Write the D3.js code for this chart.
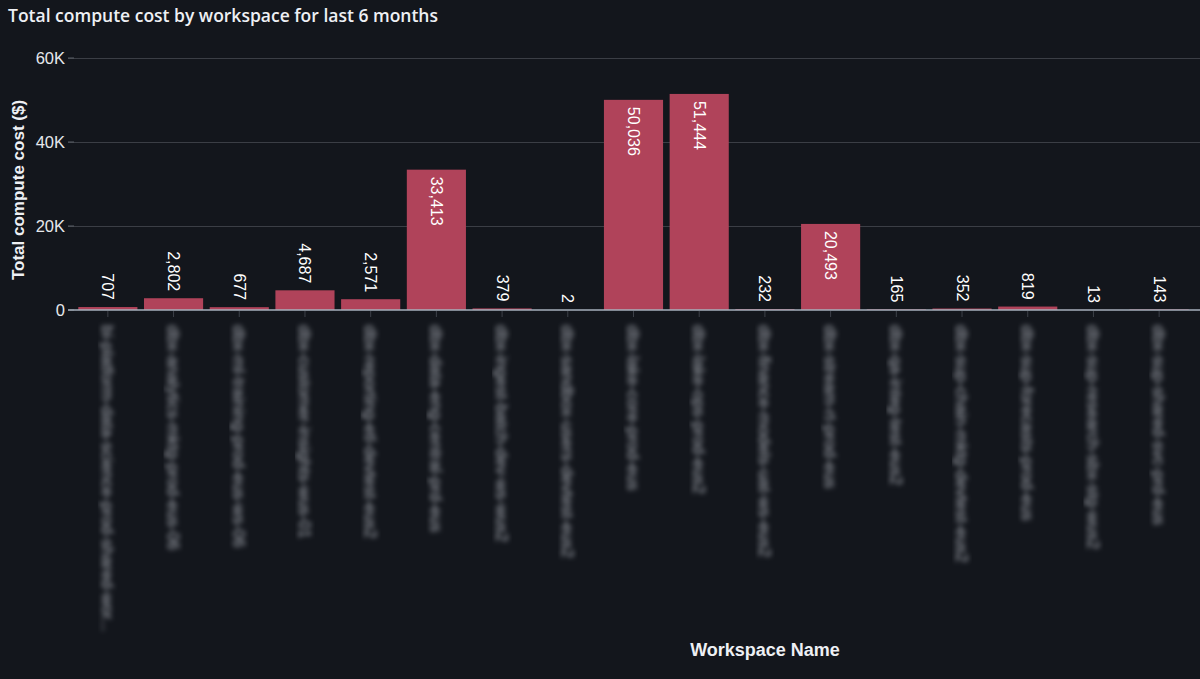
<!DOCTYPE html>
<html>
<head>
<meta charset="utf-8">
<script src="https://cdn.jsdelivr.net/npm/d3@7"></script>
<style>
  html, body { margin: 0; padding: 0; background: #13161c; }
  svg { display: block; font-family: "Liberation Sans", Arial, sans-serif; }
</style>
</head>
<body>
<script>
"use strict";
// workspace names are blurred in the original, these are stand-ins
const workspaces = [
    "bi-platform-data-science-prod-shared-workspace-eus",
    "dbx-analytics-mktg-prod-eus-06",
    "dbx-ml-training-prod-eus-ws-06",
    "dbx-customer-insights-wus-01",
    "dbx-reporting-etl-devtest-eus2",
    "dbx-data-eng-central-prd-eus",
    "dbx-ingest-batch-dev-ws-wus2",
    "dbx-sandbox-users-devtest-eus2",
    "dbx-lake-core-prod-eus",
    "dbx-lake-ops-prod-eus2",
    "dbx-finance-models-uat-ws-eus2",
    "dbx-stream-rt-prod-eus",
    "dbx-qa-integ-test-eus2",
    "dbx-sup-chain-mktg-devtest-eus2",
    "dbx-sup-forecasts-prod-eus",
    "dbx-sup-research-sbx-stg-wus2",
    "dbx-sup-shared-svc-prd-eus"
]
const costs = [707, 2802, 677, 4687, 2571, 33413, 379, 2, 50036, 51444, 232, 20493, 165, 352, 819, 13, 143]
const yTicks = [0, 20000, 40000, 60000]
const yTickLabels = ["0", "20K", "40K", "60K"]

const measurements = {
    width: 1200,
    height: 679,
    left: 68,
    top: 58,
    bottom: 310
}

const svg = d3.select("body").append("svg")
    .attr("width", measurements.width)
    .attr("height", measurements.height)

svg.append("defs").append("filter")
    .attr("id", "blur")
    .attr("x", "-50%").attr("y", "-5%").attr("width", "200%").attr("height", "110%")
    .append("feGaussianBlur")
    .attr("stdDeviation", 2.6)

const x = d3.scaleBand()
    .domain(workspaces)
    .range([75, 1192])
    .paddingInner(0.1)
    .paddingOuter(0.05)

const y = d3.scaleLinear()
    .domain([0, 60000])
    .range([measurements.bottom, measurements.top])

// title
svg.append("text")
    .attr("x", 8)
    .attr("y", 22)
    .attr("fill", "#eef0f4")
    .attr("font-size", 17.5)
    .attr("font-weight", 600)
    .attr("font-family", "'Open Sans', sans-serif")
    .text("Total compute cost by workspace for last 6 months")

// gridlines + y axis
const yAxis = d3.axisLeft(y)
    .tickValues(yTicks)
    .tickFormat((d, i) => yTickLabels[i])
    .tickSize(-(measurements.width - measurements.left))
    .tickPadding(10)

const gy = svg.append("g")
    .attr("transform", `translate(${measurements.left},0)`)
    .call(yAxis)
gy.select(".domain").remove()
gy.selectAll(".tick line")
    .attr("stroke", "#3b3e45")
    .attr("x1", 0)
gy.selectAll(".tick text")
    .attr("fill", "#e6e8ec")
    .attr("font-size", 16.5)
    .attr("font-family", "'Liberation Sans', Arial, sans-serif")
    .attr("x", -3)
gy.selectAll(".tick").filter(d => d === 0).select("line").attr("stroke", "none")

// small tick stubs at the axis
svg.append("g").selectAll("line")
    .data(yTicks)
    .join("line")
    .attr("x1", measurements.left)
    .attr("x2", measurements.left + 6)
    .attr("y1", d => y(d))
    .attr("y2", d => y(d))
    .attr("stroke", "#5a5e66")

// bars
svg.append("g").selectAll("rect")
    .data(costs)
    .join("rect")
    .attr("x", (d, i) => x(workspaces[i]))
    .attr("y", d => y(d))
    .attr("width", x.bandwidth())
    .attr("height", d => y(0) - y(d))
    .attr("fill", "#b0435a")

// zero line
svg.append("line")
    .attr("x1", measurements.left)
    .attr("x2", measurements.width)
    .attr("y1", y(0))
    .attr("y2", y(0))
    .attr("stroke", "#a7b0bd")
    .attr("stroke-width", 1.5)

// x axis: blurred names, rotated
const xAxis = d3.axisBottom(x).tickSize(6).tickPadding(0)
const gx = svg.append("g")
    .attr("transform", `translate(0,${y(0) + 1})`)
    .call(xAxis)
gx.select(".domain").remove()
gx.selectAll(".tick line").attr("stroke", "#3d4149")
gx.selectAll(".tick text")
    .attr("transform", "rotate(90)")
    .attr("text-anchor", "start")
    .attr("dominant-baseline", "central")
    .attr("x", 14)
    .attr("y", 0)
    .attr("dy", null)
    .attr("fill", "#a4a8b0")
    .attr("font-size", 16)
    .attr("font-family", "'Liberation Sans', Arial, sans-serif")
    .attr("filter", "url(#blur)")
    .text(d => d.length > 44 ? d.slice(0, 40) + "..." : d)

// value labels
const fmt = d3.format(",")
svg.append("g").selectAll("text")
    .data(costs)
    .join("text")
    .each(function(d, i) {
        const cx = x(workspaces[i]) + x.bandwidth() / 2
        const label = fmt(d)
        const h = y(0) - y(d)
        const inside = h > label.length * 8 + 16
        d3.select(this)
            .attr("transform", `translate(${cx},${inside ? y(d) + 7 : y(d) - 7}) rotate(90)`)
            .attr("text-anchor", inside ? "start" : "end")
            .attr("dominant-baseline", "central")
            .attr("fill", "#ffffff")
            .attr("font-size", 16)
            .attr("font-family", "'Liberation Sans', Arial, sans-serif")
            .text(label)
    })

// axis titles
svg.append("text")
    .attr("transform", `translate(24,${(measurements.top + measurements.bottom) / 2 + 6}) rotate(-90)`)
    .attr("text-anchor", "middle")
    .attr("fill", "#eef0f4")
    .attr("font-size", 17)
    .attr("font-weight", "bold")
    .text("Total compute cost ($)")

svg.append("text")
    .attr("x", 765)
    .attr("y", 656)
    .attr("text-anchor", "middle")
    .attr("fill", "#eef0f4")
    .attr("font-size", 18)
    .attr("font-weight", "bold")
    .text("Workspace Name")
</script>
</body>
</html>
